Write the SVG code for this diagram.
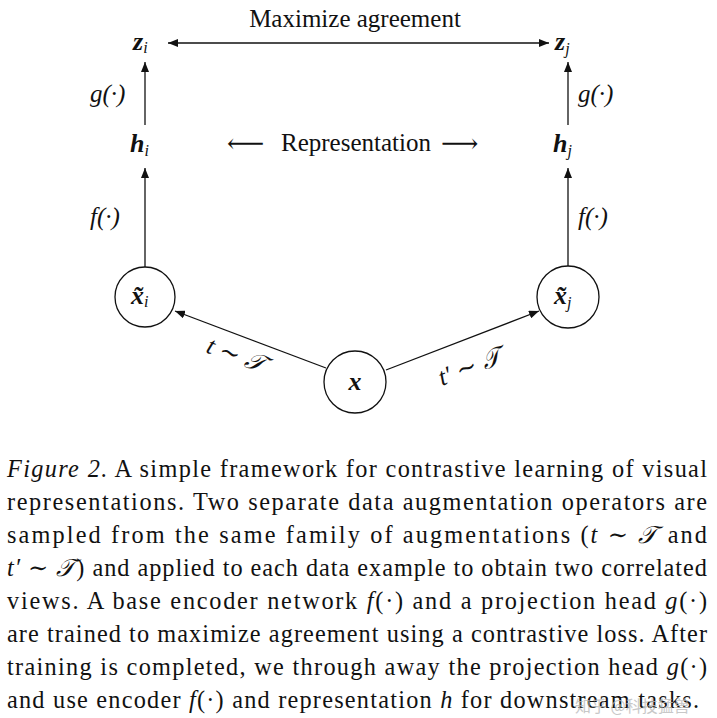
<svg xmlns="http://www.w3.org/2000/svg" width="717" height="718" viewBox="0 0 717 718">
<style>
text{font-family:"Liberation Serif","DejaVu Serif",serif;fill:#111}
.m{font-style:italic;font-size:25px}
.b{font-style:italic;font-weight:bold;font-size:26px}
.s{font-style:italic;font-weight:normal;font-size:16px}
.c{font-size:24.3px}
.ln{stroke:#111;stroke-width:1.3;fill:none}
circle{fill:#fff;stroke:#111;stroke-width:1.3}
</style>
<defs><marker id="a" viewBox="0 0 10 8" refX="10" refY="4" markerWidth="10" markerHeight="8" markerUnits="userSpaceOnUse" orient="auto-start-reverse"><path d="M0,0L10,4L0,8z" fill="#111"/></marker></defs>
<rect width="717" height="718" fill="#fff"/>
<g id="connectors">
<line class="ln" x1="168" y1="43" x2="549" y2="43" marker-start="url(#a)" marker-end="url(#a)"/>
<line class="ln" x1="145" y1="125" x2="145" y2="62" marker-end="url(#a)"/>
<line class="ln" x1="568" y1="125" x2="568" y2="62" marker-end="url(#a)"/>
<line class="ln" x1="145" y1="267" x2="145" y2="168" marker-end="url(#a)"/>
<line class="ln" x1="568" y1="266" x2="568" y2="168" marker-end="url(#a)"/>
<line class="ln" x1="326" y1="368" x2="175" y2="311" marker-end="url(#a)"/>
<line class="ln" x1="386" y1="370" x2="539" y2="311" marker-end="url(#a)"/>
<text x="227" y="152" style="font-size:26px">⟵</text>
<text x="441" y="152" style="font-size:26px">⟶</text>
<text class="m" x="90" y="102">g(·)</text>
<text class="m" x="578" y="102">g(·)</text>
<text class="m" x="90" y="225">f(·)</text>
<text class="m" x="578" y="225">f(·)</text>
<text class="m" transform="translate(205,352) rotate(21)">t ∼ 𝒯</text>
<text class="m" transform="translate(442,386) rotate(-21)">t′ ∼ 𝒯</text>
</g>
<text x="355" y="27" text-anchor="middle" style="font-size:25px">Maximize agreement</text>
<text x="356" y="151" text-anchor="middle" style="font-size:25px">Representation</text>
<g id="zi"><text class="b" x="133" y="50">z<tspan class="s" dy="3">i</tspan></text></g>
<g id="zj"><text class="b" x="555" y="50">z<tspan class="s" dy="4">j</tspan></text></g>
<g id="hi"><text class="b" x="130" y="152">h<tspan class="s" dy="4">i</tspan></text></g>
<g id="hj"><text class="b" x="553" y="152">h<tspan class="s" dy="4">j</tspan></text></g>
<g id="xi"><circle cx="145" cy="297" r="30"/><text class="b" x="131" y="304">x̃<tspan class="s" dy="3">i</tspan></text></g>
<g id="xj"><circle cx="568" cy="297" r="31"/><text class="b" x="554" y="304">x̃<tspan class="s" dy="4">j</tspan></text></g>
<g id="x"><circle cx="355" cy="382" r="31"/><text class="b" x="355" y="390" text-anchor="middle">x</text></g>
<g id="caption">
<text x="7" y="477" class="c" textLength="700" lengthAdjust="spacing"><tspan font-style="italic">Figure 2.</tspan> A simple framework for contrastive learning of visual</text>
<text x="7" y="510" class="c" textLength="700" lengthAdjust="spacing">representations.  Two separate data augmentation operators are</text>
<text x="7" y="543" class="c" textLength="700" lengthAdjust="spacing">sampled from the same family of augmentations (<tspan font-style="italic">t</tspan> ∼ <tspan font-style="italic">𝒯</tspan> and</text>
<text x="7" y="576" class="c" textLength="700" lengthAdjust="spacing"><tspan font-style="italic">t′</tspan> ∼ <tspan font-style="italic">𝒯</tspan>) and applied to each data example to obtain two correlated</text>
<text x="7" y="609" class="c" textLength="700" lengthAdjust="spacing">views.  A base encoder network <tspan font-style="italic">f</tspan>(·) and a projection head <tspan font-style="italic">g</tspan>(·)</text>
<text x="7" y="642" class="c" textLength="700" lengthAdjust="spacing">are trained to maximize agreement using a contrastive loss. After</text>
<text x="7" y="675" class="c" textLength="700" lengthAdjust="spacing">training is completed, we through away the projection head <tspan font-style="italic">g</tspan>(·)</text>
<text x="7" y="708" class="c" textLength="692" lengthAdjust="spacing">and use encoder <tspan font-style="italic">f</tspan>(·) and representation <tspan font-style="italic">h</tspan> for downstream tasks.</text>
</g>
<text x="575" y="712" style="font-family:'Noto Sans CJK SC',sans-serif;font-size:16px;fill:#bbb;opacity:0.8">知乎 @科技猛兽</text>
</svg>
